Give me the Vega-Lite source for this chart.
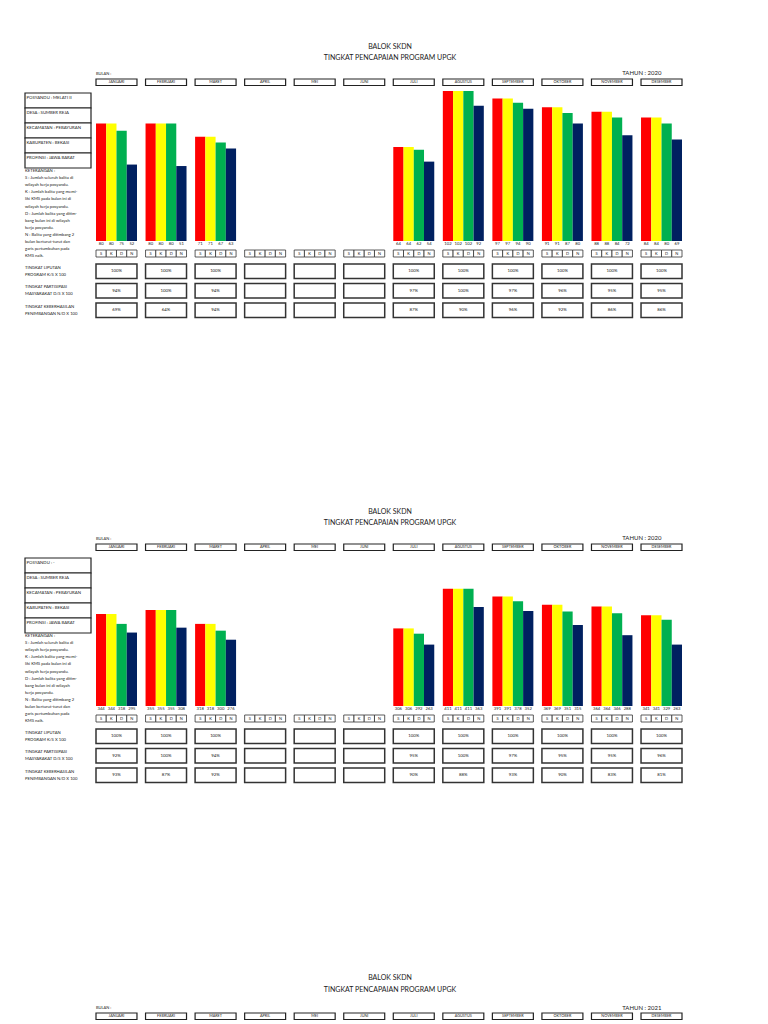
{
  "$schema": "https://vega.github.io/schema/vega-lite/v6.json",
  "padding": {"left": 24, "top": 40, "right": 0, "bottom": 0},
  "spacing": 180,
  "config": {"font": "Lato", "view": {"stroke": null}, "axis": {"disable": true}, "legend": {"disable": true}, "text": {"color": "#1a1a1a"}},
  "datasets": {
    "bulan": [{"bulan":"JANUARI"},{"bulan":"FEBRUARI"},{"bulan":"MARET"},{"bulan":"APRIL"},{"bulan":"MEI"},{"bulan":"JUNI"},{"bulan":"JULI"},{"bulan":"AGUSTUS"},{"bulan":"SEPTEMBER"},{"bulan":"OKTOBER"},{"bulan":"NOVEMBER"},{"bulan":"DESEMBER"}],
    "info_a": [{"info":"POSYANDU : MELATI II"},{"info":"DESA : SUMBER REJA"},{"info":"KECAMATAN : PEBAYURAN"},{"info":"KABUPATEN : BEKASI"},{"info":"PROFINSI : JAWA BARAT"}],
    "info_b": [{"info":"POSYANDU : -"},{"info":"DESA : SUMBER REJA"},{"info":"KECAMATAN : PEBAYURAN"},{"info":"KABUPATEN : BEKASI"},{"info":"PROFINSI : JAWA BARAT"}],
    "keterangan": [{"teks":"KETERANGAN :\nS : Jumlah seluruh balita di\n\u00a0\u00a0\u00a0\u00a0\u00a0\u00a0wilayah kerja posyandu.\nK : Jumlah balita yang memi-\n\u00a0\u00a0\u00a0\u00a0\u00a0\u00a0liki KMS pada bulan ini di\n\u00a0\u00a0\u00a0\u00a0\u00a0\u00a0wilayah kerja posyandu.\nD : Jumlah balita yang ditim-\n\u00a0\u00a0\u00a0\u00a0\u00a0\u00a0bang bulan ini di wilayah\n\u00a0\u00a0\u00a0\u00a0\u00a0\u00a0kerja posyandu.\nN : Balita yang ditimbang 2\n\u00a0\u00a0\u00a0\u00a0\u00a0\u00a0bulan berturut-turut dan\n\u00a0\u00a0\u00a0\u00a0\u00a0\u00a0garis pertumbuhan pada\n\u00a0\u00a0\u00a0\u00a0\u00a0\u00a0KMS naik."}],
    "indikator": [{"indikator":"LIPUTAN","label":"TINGKAT LIPUTAN\nPROGRAM K/S X 100"},{"indikator":"PARTISIPASI","label":"TINGKAT PARTISIPASI\nMASYARAKAT D/S X 100"},{"indikator":"KEBERHASILAN","label":"TINGKAT KEBERHASILAN\nPENIMBANGAN N/D X 100"}],
    "skdn_a": [
      {"bulan":"JANUARI","seri":"S","nilai":80},{"bulan":"JANUARI","seri":"K","nilai":80},{"bulan":"JANUARI","seri":"D","nilai":75},{"bulan":"JANUARI","seri":"N","nilai":52},
      {"bulan":"FEBRUARI","seri":"S","nilai":80},{"bulan":"FEBRUARI","seri":"K","nilai":80},{"bulan":"FEBRUARI","seri":"D","nilai":80},{"bulan":"FEBRUARI","seri":"N","nilai":51},
      {"bulan":"MARET","seri":"S","nilai":71},{"bulan":"MARET","seri":"K","nilai":71},{"bulan":"MARET","seri":"D","nilai":67},{"bulan":"MARET","seri":"N","nilai":63},
      {"bulan":"APRIL","seri":"S","nilai":null},{"bulan":"APRIL","seri":"K","nilai":null},{"bulan":"APRIL","seri":"D","nilai":null},{"bulan":"APRIL","seri":"N","nilai":null},
      {"bulan":"MEI","seri":"S","nilai":null},{"bulan":"MEI","seri":"K","nilai":null},{"bulan":"MEI","seri":"D","nilai":null},{"bulan":"MEI","seri":"N","nilai":null},
      {"bulan":"JUNI","seri":"S","nilai":null},{"bulan":"JUNI","seri":"K","nilai":null},{"bulan":"JUNI","seri":"D","nilai":null},{"bulan":"JUNI","seri":"N","nilai":null},
      {"bulan":"JULI","seri":"S","nilai":64},{"bulan":"JULI","seri":"K","nilai":64},{"bulan":"JULI","seri":"D","nilai":62},{"bulan":"JULI","seri":"N","nilai":54},
      {"bulan":"AGUSTUS","seri":"S","nilai":102},{"bulan":"AGUSTUS","seri":"K","nilai":102},{"bulan":"AGUSTUS","seri":"D","nilai":102},{"bulan":"AGUSTUS","seri":"N","nilai":92},
      {"bulan":"SEPTEMBER","seri":"S","nilai":97},{"bulan":"SEPTEMBER","seri":"K","nilai":97},{"bulan":"SEPTEMBER","seri":"D","nilai":94},{"bulan":"SEPTEMBER","seri":"N","nilai":90},
      {"bulan":"OKTOBER","seri":"S","nilai":91},{"bulan":"OKTOBER","seri":"K","nilai":91},{"bulan":"OKTOBER","seri":"D","nilai":87},{"bulan":"OKTOBER","seri":"N","nilai":80},
      {"bulan":"NOVEMBER","seri":"S","nilai":88},{"bulan":"NOVEMBER","seri":"K","nilai":88},{"bulan":"NOVEMBER","seri":"D","nilai":84},{"bulan":"NOVEMBER","seri":"N","nilai":72},
      {"bulan":"DESEMBER","seri":"S","nilai":84},{"bulan":"DESEMBER","seri":"K","nilai":84},{"bulan":"DESEMBER","seri":"D","nilai":80},{"bulan":"DESEMBER","seri":"N","nilai":69}
    ],
    "skdn_b": [
      {"bulan":"JANUARI","seri":"S","nilai":344},{"bulan":"JANUARI","seri":"K","nilai":344},{"bulan":"JANUARI","seri":"D","nilai":318},{"bulan":"JANUARI","seri":"N","nilai":295},
      {"bulan":"FEBRUARI","seri":"S","nilai":355},{"bulan":"FEBRUARI","seri":"K","nilai":355},{"bulan":"FEBRUARI","seri":"D","nilai":355},{"bulan":"FEBRUARI","seri":"N","nilai":308},
      {"bulan":"MARET","seri":"S","nilai":318},{"bulan":"MARET","seri":"K","nilai":318},{"bulan":"MARET","seri":"D","nilai":300},{"bulan":"MARET","seri":"N","nilai":276},
      {"bulan":"APRIL","seri":"S","nilai":null},{"bulan":"APRIL","seri":"K","nilai":null},{"bulan":"APRIL","seri":"D","nilai":null},{"bulan":"APRIL","seri":"N","nilai":null},
      {"bulan":"MEI","seri":"S","nilai":null},{"bulan":"MEI","seri":"K","nilai":null},{"bulan":"MEI","seri":"D","nilai":null},{"bulan":"MEI","seri":"N","nilai":null},
      {"bulan":"JUNI","seri":"S","nilai":null},{"bulan":"JUNI","seri":"K","nilai":null},{"bulan":"JUNI","seri":"D","nilai":null},{"bulan":"JUNI","seri":"N","nilai":null},
      {"bulan":"JULI","seri":"S","nilai":306},{"bulan":"JULI","seri":"K","nilai":306},{"bulan":"JULI","seri":"D","nilai":292},{"bulan":"JULI","seri":"N","nilai":263},
      {"bulan":"AGUSTUS","seri":"S","nilai":411},{"bulan":"AGUSTUS","seri":"K","nilai":411},{"bulan":"AGUSTUS","seri":"D","nilai":411},{"bulan":"AGUSTUS","seri":"N","nilai":363},
      {"bulan":"SEPTEMBER","seri":"S","nilai":391},{"bulan":"SEPTEMBER","seri":"K","nilai":391},{"bulan":"SEPTEMBER","seri":"D","nilai":378},{"bulan":"SEPTEMBER","seri":"N","nilai":352},
      {"bulan":"OKTOBER","seri":"S","nilai":369},{"bulan":"OKTOBER","seri":"K","nilai":369},{"bulan":"OKTOBER","seri":"D","nilai":351},{"bulan":"OKTOBER","seri":"N","nilai":315},
      {"bulan":"NOVEMBER","seri":"S","nilai":364},{"bulan":"NOVEMBER","seri":"K","nilai":364},{"bulan":"NOVEMBER","seri":"D","nilai":346},{"bulan":"NOVEMBER","seri":"N","nilai":288},
      {"bulan":"DESEMBER","seri":"S","nilai":341},{"bulan":"DESEMBER","seri":"K","nilai":341},{"bulan":"DESEMBER","seri":"D","nilai":329},{"bulan":"DESEMBER","seri":"N","nilai":263}
    ],
    "persen_a": [
      {"bulan":"JANUARI","indikator":"LIPUTAN","persen":"100%"},{"bulan":"JANUARI","indikator":"PARTISIPASI","persen":"94%"},{"bulan":"JANUARI","indikator":"KEBERHASILAN","persen":"69%"},
      {"bulan":"FEBRUARI","indikator":"LIPUTAN","persen":"100%"},{"bulan":"FEBRUARI","indikator":"PARTISIPASI","persen":"100%"},{"bulan":"FEBRUARI","indikator":"KEBERHASILAN","persen":"64%"},
      {"bulan":"MARET","indikator":"LIPUTAN","persen":"100%"},{"bulan":"MARET","indikator":"PARTISIPASI","persen":"94%"},{"bulan":"MARET","indikator":"KEBERHASILAN","persen":"94%"},
      {"bulan":"APRIL","indikator":"LIPUTAN","persen":null},{"bulan":"APRIL","indikator":"PARTISIPASI","persen":null},{"bulan":"APRIL","indikator":"KEBERHASILAN","persen":null},
      {"bulan":"MEI","indikator":"LIPUTAN","persen":null},{"bulan":"MEI","indikator":"PARTISIPASI","persen":null},{"bulan":"MEI","indikator":"KEBERHASILAN","persen":null},
      {"bulan":"JUNI","indikator":"LIPUTAN","persen":null},{"bulan":"JUNI","indikator":"PARTISIPASI","persen":null},{"bulan":"JUNI","indikator":"KEBERHASILAN","persen":null},
      {"bulan":"JULI","indikator":"LIPUTAN","persen":"100%"},{"bulan":"JULI","indikator":"PARTISIPASI","persen":"97%"},{"bulan":"JULI","indikator":"KEBERHASILAN","persen":"87%"},
      {"bulan":"AGUSTUS","indikator":"LIPUTAN","persen":"100%"},{"bulan":"AGUSTUS","indikator":"PARTISIPASI","persen":"100%"},{"bulan":"AGUSTUS","indikator":"KEBERHASILAN","persen":"90%"},
      {"bulan":"SEPTEMBER","indikator":"LIPUTAN","persen":"100%"},{"bulan":"SEPTEMBER","indikator":"PARTISIPASI","persen":"97%"},{"bulan":"SEPTEMBER","indikator":"KEBERHASILAN","persen":"96%"},
      {"bulan":"OKTOBER","indikator":"LIPUTAN","persen":"100%"},{"bulan":"OKTOBER","indikator":"PARTISIPASI","persen":"96%"},{"bulan":"OKTOBER","indikator":"KEBERHASILAN","persen":"92%"},
      {"bulan":"NOVEMBER","indikator":"LIPUTAN","persen":"100%"},{"bulan":"NOVEMBER","indikator":"PARTISIPASI","persen":"95%"},{"bulan":"NOVEMBER","indikator":"KEBERHASILAN","persen":"86%"},
      {"bulan":"DESEMBER","indikator":"LIPUTAN","persen":"100%"},{"bulan":"DESEMBER","indikator":"PARTISIPASI","persen":"95%"},{"bulan":"DESEMBER","indikator":"KEBERHASILAN","persen":"86%"}
    ],
    "persen_b": [
      {"bulan":"JANUARI","indikator":"LIPUTAN","persen":"100%"},{"bulan":"JANUARI","indikator":"PARTISIPASI","persen":"92%"},{"bulan":"JANUARI","indikator":"KEBERHASILAN","persen":"93%"},
      {"bulan":"FEBRUARI","indikator":"LIPUTAN","persen":"100%"},{"bulan":"FEBRUARI","indikator":"PARTISIPASI","persen":"100%"},{"bulan":"FEBRUARI","indikator":"KEBERHASILAN","persen":"87%"},
      {"bulan":"MARET","indikator":"LIPUTAN","persen":"100%"},{"bulan":"MARET","indikator":"PARTISIPASI","persen":"94%"},{"bulan":"MARET","indikator":"KEBERHASILAN","persen":"92%"},
      {"bulan":"APRIL","indikator":"LIPUTAN","persen":null},{"bulan":"APRIL","indikator":"PARTISIPASI","persen":null},{"bulan":"APRIL","indikator":"KEBERHASILAN","persen":null},
      {"bulan":"MEI","indikator":"LIPUTAN","persen":null},{"bulan":"MEI","indikator":"PARTISIPASI","persen":null},{"bulan":"MEI","indikator":"KEBERHASILAN","persen":null},
      {"bulan":"JUNI","indikator":"LIPUTAN","persen":null},{"bulan":"JUNI","indikator":"PARTISIPASI","persen":null},{"bulan":"JUNI","indikator":"KEBERHASILAN","persen":null},
      {"bulan":"JULI","indikator":"LIPUTAN","persen":"100%"},{"bulan":"JULI","indikator":"PARTISIPASI","persen":"95%"},{"bulan":"JULI","indikator":"KEBERHASILAN","persen":"90%"},
      {"bulan":"AGUSTUS","indikator":"LIPUTAN","persen":"100%"},{"bulan":"AGUSTUS","indikator":"PARTISIPASI","persen":"100%"},{"bulan":"AGUSTUS","indikator":"KEBERHASILAN","persen":"88%"},
      {"bulan":"SEPTEMBER","indikator":"LIPUTAN","persen":"100%"},{"bulan":"SEPTEMBER","indikator":"PARTISIPASI","persen":"97%"},{"bulan":"SEPTEMBER","indikator":"KEBERHASILAN","persen":"93%"},
      {"bulan":"OKTOBER","indikator":"LIPUTAN","persen":"100%"},{"bulan":"OKTOBER","indikator":"PARTISIPASI","persen":"95%"},{"bulan":"OKTOBER","indikator":"KEBERHASILAN","persen":"90%"},
      {"bulan":"NOVEMBER","indikator":"LIPUTAN","persen":"100%"},{"bulan":"NOVEMBER","indikator":"PARTISIPASI","persen":"95%"},{"bulan":"NOVEMBER","indikator":"KEBERHASILAN","persen":"83%"},
      {"bulan":"DESEMBER","indikator":"LIPUTAN","persen":"100%"},{"bulan":"DESEMBER","indikator":"PARTISIPASI","persen":"96%"},{"bulan":"DESEMBER","indikator":"KEBERHASILAN","persen":"81%"}
    ]
  },
  "vconcat": [
    {
      "width": 732, "height": 285,
      "resolve": {"scale": {"x": "independent", "y": "independent", "xOffset": "independent"}},
      "layer": [
        {"data": {"values": [{"teks": "BALOK SKDN", "baris": "judul"}, {"teks": "TINGKAT PENCAPAIAN PROGRAM UPGK", "baris": "sub"}]},
         "mark": {"type": "text", "fontSize": 7, "baseline": "middle"},
         "encoding": {"y": {"field": "baris", "type": "nominal", "scale": {"type": "point", "domain": ["judul", "sub"], "range": [6.5, 18], "padding": 0}}, "text": {"field": "teks"}}},
        {"data": {"values": [{"bulan": "JANUARI", "teks": "BULAN :"}]},
         "mark": {"type": "text", "fontSize": 4, "align": "left", "baseline": "middle"},
         "encoding": {"x": {"field": "bulan", "type": "nominal", "bandPosition": 0, "scale": {"type": "band", "domain": ["JANUARI","FEBRUARI","MARET","APRIL","MEI","JUNI","JULI","AGUSTUS","SEPTEMBER","OKTOBER","NOVEMBER","DESEMBER"], "range": [72, 658], "paddingInner": 0.173, "paddingOuter": 0}},
                      "y": {"datum": "atas", "type": "nominal", "scale": {"type": "point", "domain": ["atas"], "range": [33, 34], "padding": 0.5}}, "text": {"field": "teks"}}},
        {"data": {"values": [{"bulan": "DESEMBER", "teks": "TAHUN : 2020"}]},
         "mark": {"type": "text", "fontSize": 6, "align": "right", "baseline": "middle"},
         "encoding": {"x": {"field": "bulan", "type": "nominal", "bandPosition": 0.5, "scale": {"type": "band", "domain": ["JANUARI","FEBRUARI","MARET","APRIL","MEI","JUNI","JULI","AGUSTUS","SEPTEMBER","OKTOBER","NOVEMBER","DESEMBER"], "range": [72, 658], "paddingInner": 0.173, "paddingOuter": 0}},
                      "y": {"datum": "atas", "type": "nominal", "scale": {"type": "point", "domain": ["atas"], "range": [32.5, 33.5], "padding": 0.5}}, "text": {"field": "teks"}}},
        {"data": {"name": "bulan"},
         "mark": {"type": "rect", "fill": "white", "stroke": "#222222", "strokeWidth": 1.2},
         "encoding": {"x": {"field": "bulan", "type": "nominal", "scale": {"type": "band", "domain": ["JANUARI","FEBRUARI","MARET","APRIL","MEI","JUNI","JULI","AGUSTUS","SEPTEMBER","OKTOBER","NOVEMBER","DESEMBER"], "range": [72, 658], "paddingInner": 0.173, "paddingOuter": 0}},
                      "y": {"datum": "kepala", "type": "nominal", "scale": {"type": "band", "domain": ["kepala"], "range": [39, 45.5], "paddingInner": 0, "paddingOuter": 0}}}},
        {"data": {"name": "bulan"},
         "mark": {"type": "text", "fontSize": 3.8, "baseline": "middle"},
         "encoding": {"x": {"field": "bulan", "type": "nominal", "scale": {"type": "band", "domain": ["JANUARI","FEBRUARI","MARET","APRIL","MEI","JUNI","JULI","AGUSTUS","SEPTEMBER","OKTOBER","NOVEMBER","DESEMBER"], "range": [72, 658], "paddingInner": 0.173, "paddingOuter": 0}},
                      "y": {"datum": "kepala", "type": "nominal", "scale": {"type": "band", "domain": ["kepala"], "range": [39, 45.5], "paddingInner": 0, "paddingOuter": 0}}, "text": {"field": "bulan"}}},
        {"data": {"name": "info_a"},
         "mark": {"type": "rect", "fill": "white", "stroke": "#222222", "strokeWidth": 1.2},
         "encoding": {"x": {"datum": "kiri", "type": "nominal", "scale": {"type": "band", "domain": ["kiri"], "range": [1, 67], "paddingInner": 0, "paddingOuter": 0}},
                      "y": {"field": "info", "type": "nominal", "sort": null, "scale": {"type": "band", "range": [53, 128], "paddingInner": 0, "paddingOuter": 0}}}},
        {"data": {"name": "info_a"},
         "mark": {"type": "text", "fontSize": 4.3, "align": "left", "baseline": "middle"},
         "encoding": {"x": {"datum": "kiri", "type": "nominal", "scale": {"type": "point", "domain": ["kiri"], "range": [0, 5], "padding": 0.5}},
                      "y": {"field": "info", "type": "nominal", "sort": null, "bandPosition": 0.33, "scale": {"type": "band", "range": [53, 128], "paddingInner": 0, "paddingOuter": 0}}, "text": {"field": "info"}}},
        {"data": {"name": "keterangan"},
         "mark": {"type": "text", "fontSize": 4.2, "align": "left", "baseline": "middle", "lineBreak": "\n", "lineHeight": 7.1},
         "encoding": {"x": {"datum": "kiri", "type": "nominal", "scale": {"type": "point", "domain": ["kiri"], "range": [0, 2], "padding": 0.5}},
                      "y": {"datum": "ket", "type": "nominal", "scale": {"type": "point", "domain": ["ket"], "range": [130.5, 131.5], "padding": 0.5}}, "text": {"field": "teks"}}},
        {"data": {"name": "indikator"},
         "mark": {"type": "text", "fontSize": 4.2, "align": "left", "baseline": "middle", "lineBreak": "\n", "lineHeight": 7.1},
         "encoding": {"x": {"datum": "kiri", "type": "nominal", "scale": {"type": "point", "domain": ["kiri"], "range": [0, 2], "padding": 0.5}},
                      "y": {"field": "indikator", "type": "nominal", "bandPosition": 0.25, "scale": {"type": "band", "domain": ["LIPUTAN", "PARTISIPASI", "KEBERHASILAN"], "range": [224, 277.5], "paddingInner": 0.256, "paddingOuter": 0}}, "text": {"field": "label"}}},
        {"data": {"name": "skdn_a"},
         "transform": [{"filter": "isValid(datum.nilai)"}],
         "mark": {"type": "bar"},
         "encoding": {"x": {"field": "bulan", "type": "nominal", "scale": {"type": "band", "domain": ["JANUARI","FEBRUARI","MARET","APRIL","MEI","JUNI","JULI","AGUSTUS","SEPTEMBER","OKTOBER","NOVEMBER","DESEMBER"], "range": [72, 658], "paddingInner": 0.173, "paddingOuter": 0}},
                      "xOffset": {"field": "seri", "type": "nominal", "scale": {"type": "band", "domain": ["S", "K", "D", "N"], "paddingInner": 0, "paddingOuter": 0}},
                      "y": {"field": "nilai", "type": "quantitative", "scale": {"domain": [0, 100], "range": [201, 54], "nice": false}},
                      "color": {"field": "seri", "type": "nominal", "scale": {"domain": ["S", "K", "D", "N"], "range": ["#FF0000", "#FFFF00", "#00B050", "#002060"]}, "legend": null}}},
        {"data": {"name": "skdn_a"},
         "transform": [{"filter": "isValid(datum.nilai)"}],
         "mark": {"type": "text", "fontSize": 4.2, "baseline": "middle"},
         "encoding": {"x": {"field": "bulan", "type": "nominal", "scale": {"type": "band", "domain": ["JANUARI","FEBRUARI","MARET","APRIL","MEI","JUNI","JULI","AGUSTUS","SEPTEMBER","OKTOBER","NOVEMBER","DESEMBER"], "range": [72, 658], "paddingInner": 0.173, "paddingOuter": 0}},
                      "xOffset": {"field": "seri", "type": "nominal", "scale": {"type": "band", "domain": ["S", "K", "D", "N"], "paddingInner": 0, "paddingOuter": 0}},
                      "y": {"datum": "nilai", "type": "nominal", "scale": {"type": "point", "domain": ["nilai"], "range": [203, 205], "padding": 0.5}},
                      "text": {"field": "nilai", "type": "quantitative"}}},
        {"data": {"name": "skdn_a"},
         "mark": {"type": "rect", "fill": "white", "stroke": "#333333", "strokeWidth": 0.8},
         "encoding": {"x": {"field": "bulan", "type": "nominal", "scale": {"type": "band", "domain": ["JANUARI","FEBRUARI","MARET","APRIL","MEI","JUNI","JULI","AGUSTUS","SEPTEMBER","OKTOBER","NOVEMBER","DESEMBER"], "range": [72, 658], "paddingInner": 0.173, "paddingOuter": 0}},
                      "xOffset": {"field": "seri", "type": "nominal", "scale": {"type": "band", "domain": ["S", "K", "D", "N"], "paddingInner": 0, "paddingOuter": 0}},
                      "y": {"datum": "kotak", "type": "nominal", "scale": {"type": "band", "domain": ["kotak"], "range": [210, 217], "paddingInner": 0, "paddingOuter": 0}}}},
        {"data": {"name": "skdn_a"},
         "mark": {"type": "text", "fontSize": 4, "baseline": "middle"},
         "encoding": {"x": {"field": "bulan", "type": "nominal", "scale": {"type": "band", "domain": ["JANUARI","FEBRUARI","MARET","APRIL","MEI","JUNI","JULI","AGUSTUS","SEPTEMBER","OKTOBER","NOVEMBER","DESEMBER"], "range": [72, 658], "paddingInner": 0.173, "paddingOuter": 0}},
                      "xOffset": {"field": "seri", "type": "nominal", "scale": {"type": "band", "domain": ["S", "K", "D", "N"], "paddingInner": 0, "paddingOuter": 0}},
                      "y": {"datum": "kotak", "type": "nominal", "scale": {"type": "band", "domain": ["kotak"], "range": [210, 217], "paddingInner": 0, "paddingOuter": 0}},
                      "text": {"field": "seri"}}},
        {"data": {"name": "persen_a"},
         "mark": {"type": "rect", "fill": "white", "stroke": "#333333", "strokeWidth": 1.5},
         "encoding": {"x": {"field": "bulan", "type": "nominal", "scale": {"type": "band", "domain": ["JANUARI","FEBRUARI","MARET","APRIL","MEI","JUNI","JULI","AGUSTUS","SEPTEMBER","OKTOBER","NOVEMBER","DESEMBER"], "range": [72, 658], "paddingInner": 0.173, "paddingOuter": 0}},
                      "y": {"field": "indikator", "type": "nominal", "scale": {"type": "band", "domain": ["LIPUTAN", "PARTISIPASI", "KEBERHASILAN"], "range": [224, 277.5], "paddingInner": 0.256, "paddingOuter": 0}}}},
        {"data": {"name": "persen_a"},
         "transform": [{"filter": "isValid(datum.persen)"}],
         "mark": {"type": "text", "fontSize": 4.3, "baseline": "middle"},
         "encoding": {"x": {"field": "bulan", "type": "nominal", "scale": {"type": "band", "domain": ["JANUARI","FEBRUARI","MARET","APRIL","MEI","JUNI","JULI","AGUSTUS","SEPTEMBER","OKTOBER","NOVEMBER","DESEMBER"], "range": [72, 658], "paddingInner": 0.173, "paddingOuter": 0}},
                      "y": {"field": "indikator", "type": "nominal", "scale": {"type": "band", "domain": ["LIPUTAN", "PARTISIPASI", "KEBERHASILAN"], "range": [224, 277.5], "paddingInner": 0.256, "paddingOuter": 0}},
                      "text": {"field": "persen"}}}
      ]
    },
    {
      "width": 732, "height": 288,
      "resolve": {"scale": {"x": "independent", "y": "independent", "xOffset": "independent"}},
      "layer": [
        {"data": {"values": [{"teks": "BALOK SKDN", "baris": "judul"}, {"teks": "TINGKAT PENCAPAIAN PROGRAM UPGK", "baris": "sub"}]},
         "mark": {"type": "text", "fontSize": 7, "baseline": "middle"},
         "encoding": {"y": {"field": "baris", "type": "nominal", "scale": {"type": "point", "domain": ["judul", "sub"], "range": [6.5, 18], "padding": 0}}, "text": {"field": "teks"}}},
        {"data": {"values": [{"bulan": "JANUARI", "teks": "BULAN :"}]},
         "mark": {"type": "text", "fontSize": 4, "align": "left", "baseline": "middle"},
         "encoding": {"x": {"field": "bulan", "type": "nominal", "bandPosition": 0, "scale": {"type": "band", "domain": ["JANUARI","FEBRUARI","MARET","APRIL","MEI","JUNI","JULI","AGUSTUS","SEPTEMBER","OKTOBER","NOVEMBER","DESEMBER"], "range": [72, 658], "paddingInner": 0.173, "paddingOuter": 0}},
                      "y": {"datum": "atas", "type": "nominal", "scale": {"type": "point", "domain": ["atas"], "range": [33, 34], "padding": 0.5}}, "text": {"field": "teks"}}},
        {"data": {"values": [{"bulan": "DESEMBER", "teks": "TAHUN : 2020"}]},
         "mark": {"type": "text", "fontSize": 6, "align": "right", "baseline": "middle"},
         "encoding": {"x": {"field": "bulan", "type": "nominal", "bandPosition": 0.5, "scale": {"type": "band", "domain": ["JANUARI","FEBRUARI","MARET","APRIL","MEI","JUNI","JULI","AGUSTUS","SEPTEMBER","OKTOBER","NOVEMBER","DESEMBER"], "range": [72, 658], "paddingInner": 0.173, "paddingOuter": 0}},
                      "y": {"datum": "atas", "type": "nominal", "scale": {"type": "point", "domain": ["atas"], "range": [32.5, 33.5], "padding": 0.5}}, "text": {"field": "teks"}}},
        {"data": {"name": "bulan"},
         "mark": {"type": "rect", "fill": "white", "stroke": "#222222", "strokeWidth": 1.2},
         "encoding": {"x": {"field": "bulan", "type": "nominal", "scale": {"type": "band", "domain": ["JANUARI","FEBRUARI","MARET","APRIL","MEI","JUNI","JULI","AGUSTUS","SEPTEMBER","OKTOBER","NOVEMBER","DESEMBER"], "range": [72, 658], "paddingInner": 0.173, "paddingOuter": 0}},
                      "y": {"datum": "kepala", "type": "nominal", "scale": {"type": "band", "domain": ["kepala"], "range": [39, 45.5], "paddingInner": 0, "paddingOuter": 0}}}},
        {"data": {"name": "bulan"},
         "mark": {"type": "text", "fontSize": 3.8, "baseline": "middle"},
         "encoding": {"x": {"field": "bulan", "type": "nominal", "scale": {"type": "band", "domain": ["JANUARI","FEBRUARI","MARET","APRIL","MEI","JUNI","JULI","AGUSTUS","SEPTEMBER","OKTOBER","NOVEMBER","DESEMBER"], "range": [72, 658], "paddingInner": 0.173, "paddingOuter": 0}},
                      "y": {"datum": "kepala", "type": "nominal", "scale": {"type": "band", "domain": ["kepala"], "range": [39, 45.5], "paddingInner": 0, "paddingOuter": 0}}, "text": {"field": "bulan"}}},
        {"data": {"name": "info_b"},
         "mark": {"type": "rect", "fill": "white", "stroke": "#222222", "strokeWidth": 1.2},
         "encoding": {"x": {"datum": "kiri", "type": "nominal", "scale": {"type": "band", "domain": ["kiri"], "range": [1, 67], "paddingInner": 0, "paddingOuter": 0}},
                      "y": {"field": "info", "type": "nominal", "sort": null, "scale": {"type": "band", "range": [53, 128], "paddingInner": 0, "paddingOuter": 0}}}},
        {"data": {"name": "info_b"},
         "mark": {"type": "text", "fontSize": 4.3, "align": "left", "baseline": "middle"},
         "encoding": {"x": {"datum": "kiri", "type": "nominal", "scale": {"type": "point", "domain": ["kiri"], "range": [0, 5], "padding": 0.5}},
                      "y": {"field": "info", "type": "nominal", "sort": null, "bandPosition": 0.33, "scale": {"type": "band", "range": [53, 128], "paddingInner": 0, "paddingOuter": 0}}, "text": {"field": "info"}}},
        {"data": {"name": "keterangan"},
         "mark": {"type": "text", "fontSize": 4.2, "align": "left", "baseline": "middle", "lineBreak": "\n", "lineHeight": 7.1},
         "encoding": {"x": {"datum": "kiri", "type": "nominal", "scale": {"type": "point", "domain": ["kiri"], "range": [0, 2], "padding": 0.5}},
                      "y": {"datum": "ket", "type": "nominal", "scale": {"type": "point", "domain": ["ket"], "range": [130.5, 131.5], "padding": 0.5}}, "text": {"field": "teks"}}},
        {"data": {"name": "indikator"},
         "mark": {"type": "text", "fontSize": 4.2, "align": "left", "baseline": "middle", "lineBreak": "\n", "lineHeight": 7.1},
         "encoding": {"x": {"datum": "kiri", "type": "nominal", "scale": {"type": "point", "domain": ["kiri"], "range": [0, 2], "padding": 0.5}},
                      "y": {"field": "indikator", "type": "nominal", "bandPosition": 0.25, "scale": {"type": "band", "domain": ["LIPUTAN", "PARTISIPASI", "KEBERHASILAN"], "range": [224, 277.5], "paddingInner": 0.256, "paddingOuter": 0}}, "text": {"field": "label"}}},
        {"data": {"name": "skdn_b"},
         "transform": [{"filter": "isValid(datum.nilai)"}],
         "mark": {"type": "bar"},
         "encoding": {"x": {"field": "bulan", "type": "nominal", "scale": {"type": "band", "domain": ["JANUARI","FEBRUARI","MARET","APRIL","MEI","JUNI","JULI","AGUSTUS","SEPTEMBER","OKTOBER","NOVEMBER","DESEMBER"], "range": [72, 658], "paddingInner": 0.173, "paddingOuter": 0}},
                      "xOffset": {"field": "seri", "type": "nominal", "scale": {"type": "band", "domain": ["S", "K", "D", "N"], "paddingInner": 0, "paddingOuter": 0}},
                      "y": {"field": "nilai", "type": "quantitative", "scale": {"domain": [100, 400], "range": [201, 88], "nice": false, "zero": false}},
                      "y2": {"datum": 100},
                      "color": {"field": "seri", "type": "nominal", "scale": {"domain": ["S", "K", "D", "N"], "range": ["#FF0000", "#FFFF00", "#00B050", "#002060"]}, "legend": null}}},
        {"data": {"name": "skdn_b"},
         "transform": [{"filter": "isValid(datum.nilai)"}],
         "mark": {"type": "text", "fontSize": 4.2, "baseline": "middle"},
         "encoding": {"x": {"field": "bulan", "type": "nominal", "scale": {"type": "band", "domain": ["JANUARI","FEBRUARI","MARET","APRIL","MEI","JUNI","JULI","AGUSTUS","SEPTEMBER","OKTOBER","NOVEMBER","DESEMBER"], "range": [72, 658], "paddingInner": 0.173, "paddingOuter": 0}},
                      "xOffset": {"field": "seri", "type": "nominal", "scale": {"type": "band", "domain": ["S", "K", "D", "N"], "paddingInner": 0, "paddingOuter": 0}},
                      "y": {"datum": "nilai", "type": "nominal", "scale": {"type": "point", "domain": ["nilai"], "range": [203, 205], "padding": 0.5}},
                      "text": {"field": "nilai", "type": "quantitative"}}},
        {"data": {"name": "skdn_b"},
         "mark": {"type": "rect", "fill": "white", "stroke": "#333333", "strokeWidth": 0.8},
         "encoding": {"x": {"field": "bulan", "type": "nominal", "scale": {"type": "band", "domain": ["JANUARI","FEBRUARI","MARET","APRIL","MEI","JUNI","JULI","AGUSTUS","SEPTEMBER","OKTOBER","NOVEMBER","DESEMBER"], "range": [72, 658], "paddingInner": 0.173, "paddingOuter": 0}},
                      "xOffset": {"field": "seri", "type": "nominal", "scale": {"type": "band", "domain": ["S", "K", "D", "N"], "paddingInner": 0, "paddingOuter": 0}},
                      "y": {"datum": "kotak", "type": "nominal", "scale": {"type": "band", "domain": ["kotak"], "range": [210, 217], "paddingInner": 0, "paddingOuter": 0}}}},
        {"data": {"name": "skdn_b"},
         "mark": {"type": "text", "fontSize": 4, "baseline": "middle"},
         "encoding": {"x": {"field": "bulan", "type": "nominal", "scale": {"type": "band", "domain": ["JANUARI","FEBRUARI","MARET","APRIL","MEI","JUNI","JULI","AGUSTUS","SEPTEMBER","OKTOBER","NOVEMBER","DESEMBER"], "range": [72, 658], "paddingInner": 0.173, "paddingOuter": 0}},
                      "xOffset": {"field": "seri", "type": "nominal", "scale": {"type": "band", "domain": ["S", "K", "D", "N"], "paddingInner": 0, "paddingOuter": 0}},
                      "y": {"datum": "kotak", "type": "nominal", "scale": {"type": "band", "domain": ["kotak"], "range": [210, 217], "paddingInner": 0, "paddingOuter": 0}},
                      "text": {"field": "seri"}}},
        {"data": {"name": "persen_b"},
         "mark": {"type": "rect", "fill": "white", "stroke": "#333333", "strokeWidth": 1.5},
         "encoding": {"x": {"field": "bulan", "type": "nominal", "scale": {"type": "band", "domain": ["JANUARI","FEBRUARI","MARET","APRIL","MEI","JUNI","JULI","AGUSTUS","SEPTEMBER","OKTOBER","NOVEMBER","DESEMBER"], "range": [72, 658], "paddingInner": 0.173, "paddingOuter": 0}},
                      "y": {"field": "indikator", "type": "nominal", "scale": {"type": "band", "domain": ["LIPUTAN", "PARTISIPASI", "KEBERHASILAN"], "range": [224, 277.5], "paddingInner": 0.256, "paddingOuter": 0}}}},
        {"data": {"name": "persen_b"},
         "transform": [{"filter": "isValid(datum.persen)"}],
         "mark": {"type": "text", "fontSize": 4.3, "baseline": "middle"},
         "encoding": {"x": {"field": "bulan", "type": "nominal", "scale": {"type": "band", "domain": ["JANUARI","FEBRUARI","MARET","APRIL","MEI","JUNI","JULI","AGUSTUS","SEPTEMBER","OKTOBER","NOVEMBER","DESEMBER"], "range": [72, 658], "paddingInner": 0.173, "paddingOuter": 0}},
                      "y": {"field": "indikator", "type": "nominal", "scale": {"type": "band", "domain": ["LIPUTAN", "PARTISIPASI", "KEBERHASILAN"], "range": [224, 277.5], "paddingInner": 0.256, "paddingOuter": 0}},
                      "text": {"field": "persen"}}}
      ]
    },
    {
      "width": 732, "height": 50,
      "resolve": {"scale": {"x": "independent", "y": "independent"}},
      "layer": [
        {"data": {"values": [{"teks": "BALOK SKDN", "baris": "judul"}, {"teks": "TINGKAT PENCAPAIAN PROGRAM UPGK", "baris": "sub"}]},
         "mark": {"type": "text", "fontSize": 7, "baseline": "middle"},
         "encoding": {"y": {"field": "baris", "type": "nominal", "scale": {"type": "point", "domain": ["judul", "sub"], "range": [5, 16.5], "padding": 0}}, "text": {"field": "teks"}}},
        {"data": {"values": [{"bulan": "JANUARI", "teks": "BULAN :"}]},
         "mark": {"type": "text", "fontSize": 4, "align": "left", "baseline": "middle"},
         "encoding": {"x": {"field": "bulan", "type": "nominal", "bandPosition": 0, "scale": {"type": "band", "domain": ["JANUARI","FEBRUARI","MARET","APRIL","MEI","JUNI","JULI","AGUSTUS","SEPTEMBER","OKTOBER","NOVEMBER","DESEMBER"], "range": [72, 658], "paddingInner": 0.173, "paddingOuter": 0}},
                      "y": {"datum": "atas", "type": "nominal", "scale": {"type": "point", "domain": ["atas"], "range": [34, 35], "padding": 0.5}}, "text": {"field": "teks"}}},
        {"data": {"values": [{"bulan": "DESEMBER", "teks": "TAHUN : 2021"}]},
         "mark": {"type": "text", "fontSize": 6, "align": "right", "baseline": "middle"},
         "encoding": {"x": {"field": "bulan", "type": "nominal", "bandPosition": 0.5, "scale": {"type": "band", "domain": ["JANUARI","FEBRUARI","MARET","APRIL","MEI","JUNI","JULI","AGUSTUS","SEPTEMBER","OKTOBER","NOVEMBER","DESEMBER"], "range": [72, 658], "paddingInner": 0.173, "paddingOuter": 0}},
                      "y": {"datum": "atas", "type": "nominal", "scale": {"type": "point", "domain": ["atas"], "range": [34, 35], "padding": 0.5}}, "text": {"field": "teks"}}},
        {"data": {"name": "bulan"},
         "mark": {"type": "rect", "fill": "white", "stroke": "#222222", "strokeWidth": 1.2},
         "encoding": {"x": {"field": "bulan", "type": "nominal", "scale": {"type": "band", "domain": ["JANUARI","FEBRUARI","MARET","APRIL","MEI","JUNI","JULI","AGUSTUS","SEPTEMBER","OKTOBER","NOVEMBER","DESEMBER"], "range": [72, 658], "paddingInner": 0.173, "paddingOuter": 0}},
                      "y": {"datum": "kepala", "type": "nominal", "scale": {"type": "band", "domain": ["kepala"], "range": [40, 46.5], "paddingInner": 0, "paddingOuter": 0}}}},
        {"data": {"name": "bulan"},
         "mark": {"type": "text", "fontSize": 3.8, "baseline": "middle"},
         "encoding": {"x": {"field": "bulan", "type": "nominal", "scale": {"type": "band", "domain": ["JANUARI","FEBRUARI","MARET","APRIL","MEI","JUNI","JULI","AGUSTUS","SEPTEMBER","OKTOBER","NOVEMBER","DESEMBER"], "range": [72, 658], "paddingInner": 0.173, "paddingOuter": 0}},
                      "y": {"datum": "kepala", "type": "nominal", "scale": {"type": "band", "domain": ["kepala"], "range": [40, 46.5], "paddingInner": 0, "paddingOuter": 0}}, "text": {"field": "bulan"}}}
      ]
    }
  ]
}
